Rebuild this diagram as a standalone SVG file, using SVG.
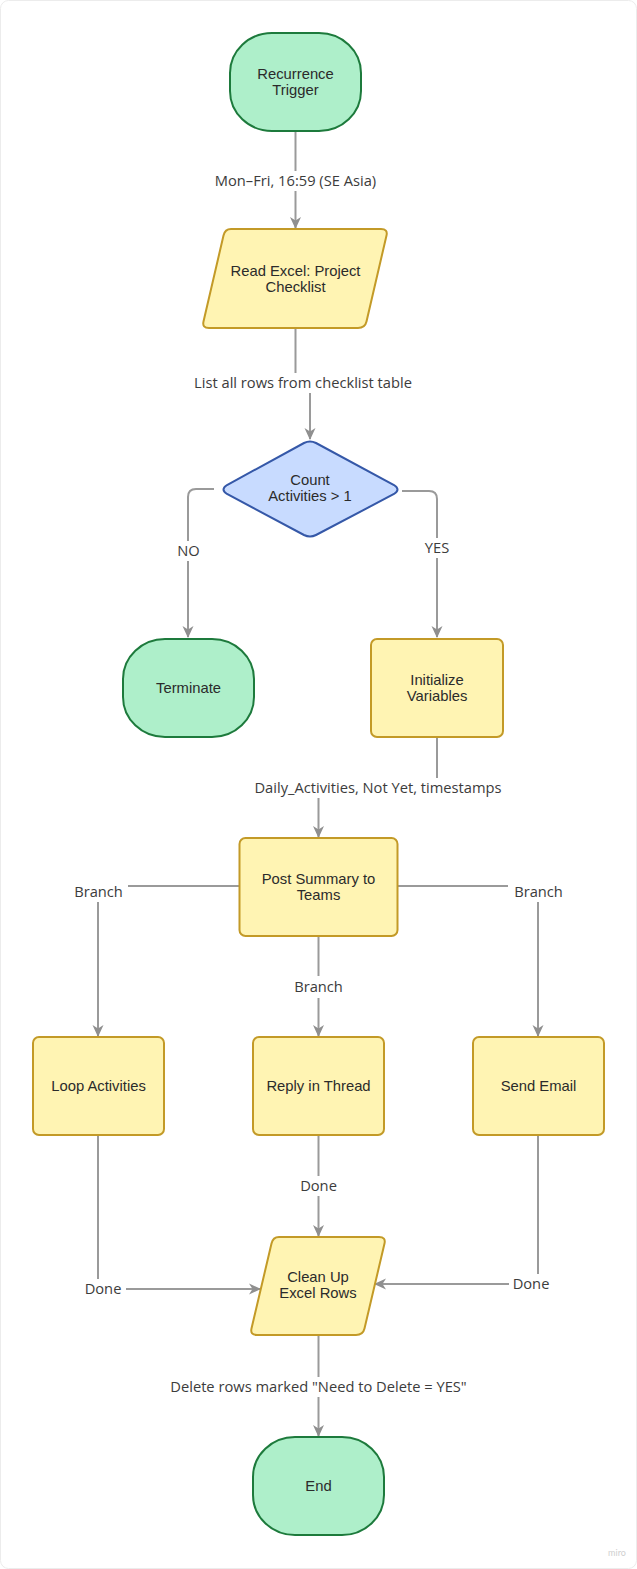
<svg xmlns="http://www.w3.org/2000/svg" width="637" height="1569" viewBox="0 0 637 1569">
<style>
.term{fill:#aeefca;stroke:#1d7a3c;stroke-width:2}
.proc{fill:#fff4b3;stroke:#c39a27;stroke-width:2}
.dec{fill:#c8dbff;stroke:#3558a8;stroke-width:2}
.nt{font-family:"Liberation Sans",Arial,sans-serif;font-size:14.8px;fill:#2b2b2b;text-anchor:middle}
.lt{font-family:"Open Sans","Noto Sans",sans-serif;font-size:14.7px;fill:#3c3c3c;text-anchor:middle}
.edge{fill:none;stroke:#9a9a9a;stroke-width:2}
.lb{fill:#ffffff}
</style>
<defs>
<marker id="arr" viewBox="0 0 12 12" refX="11" refY="6" markerWidth="12" markerHeight="12" markerUnits="userSpaceOnUse" orient="auto">
<path d="M0,0.5 L12,6 L0,11.5 L3.5,6 Z" fill="#8f8f8f"/>
</marker>
</defs>
<rect x="0.5" y="0.5" width="636" height="1568" rx="8" fill="#ffffff" stroke="#ececec"/>

<g id="connectors">
<path class="edge" d="M295.5 131 V228" marker-end="url(#arr)"/>
<path class="edge" d="M295.5 328 V383 H310 V439" marker-end="url(#arr)"/>
<path class="edge" d="M214 489 H196 Q188 489 188 497 V637" marker-end="url(#arr)"/>
<path class="edge" d="M402 491 H429 Q437 491 437 499 V637" marker-end="url(#arr)"/>
<path class="edge" d="M437 738 V788 H318.5 V837" marker-end="url(#arr)"/>
<path class="edge" d="M239 886 H106 Q98 886 98 894 V1036" marker-end="url(#arr)"/>
<path class="edge" d="M397 886 H530 Q538 886 538 894 V1036" marker-end="url(#arr)"/>
<path class="edge" d="M318.5 937 V1036" marker-end="url(#arr)"/>
<path class="edge" d="M98 1135 V1281 Q98 1289 106 1289 H260" marker-end="url(#arr)"/>
<path class="edge" d="M318.5 1135 V1236" marker-end="url(#arr)"/>
<path class="edge" d="M538 1135 V1276 Q538 1284 530 1284 H375" marker-end="url(#arr)"/>
<path class="edge" d="M318.5 1335 V1436" marker-end="url(#arr)"/>

<rect class="lb" x="210" y="171" width="172" height="20"/>
<text class="lt" x="295.5" y="186">Mon–Fri, 16:59 (SE Asia)</text>
<rect class="lb" x="189" y="373" width="228" height="20"/>
<text class="lt" x="303" y="388">List all rows from checklist table</text>
<rect class="lb" x="173" y="541" width="30" height="20"/>
<text class="lt" x="188.5" y="556">NO</text>
<rect class="lb" x="421" y="538" width="32" height="20"/>
<text class="lt" x="437" y="553">YES</text>
<rect class="lb" x="248" y="778" width="260" height="20"/>
<text class="lt" x="378" y="793">Daily_Activities, Not Yet, timestamps</text>
<rect class="lb" x="69" y="880" width="59" height="22"/>
<text class="lt" x="98.5" y="897">Branch</text>
<rect class="lb" x="508" y="880" width="60" height="22"/>
<text class="lt" x="538.5" y="897">Branch</text>
<rect class="lb" x="289" y="976" width="59" height="22"/>
<text class="lt" x="318.5" y="992">Branch</text>
<rect class="lb" x="297" y="1176" width="43" height="20"/>
<text class="lt" x="318.5" y="1191">Done</text>
<rect class="lb" x="81" y="1279" width="45" height="20"/>
<text class="lt" x="103" y="1294">Done</text>
<rect class="lb" x="509" y="1274" width="45" height="20"/>
<text class="lt" x="531" y="1289">Done</text>
<rect class="lb" x="163" y="1377" width="312" height="20"/>
<text class="lt" x="318.5" y="1392">Delete rows marked "Need to Delete = YES"</text>
</g>

<g id="recurrence-trigger">
<rect class="term" x="230" y="33" width="131" height="98" rx="42" ry="40"/>
<text class="nt" x="295.5" y="79">Recurrence</text>
<text class="nt" x="295.5" y="95">Trigger</text>
</g>

<g id="read-excel">
<path class="proc" d="M231 229 H381 Q388 229 386.5 235.5 L366.5 321.5 Q365 328 358 328 H209 Q202 328 203.5 321.5 L223.5 235.5 Q225 229 231 229 Z"/>
<text class="nt" x="295.5" y="276">Read Excel: Project</text>
<text class="nt" x="295.5" y="292">Checklist</text>
</g>

<g id="count-activities">
<path class="dec" d="M304 443 Q310 440 316 443 L394 485 Q401 489.5 394 494 L316 535 Q310 538 304 535 L227 494 Q220 489.5 227 485 Z"/>
<text class="nt" x="310" y="485">Count</text>
<text class="nt" x="310" y="501">Activities &gt; 1</text>
</g>

<g id="terminate">
<rect class="term" x="123" y="639" width="131" height="98" rx="42" ry="40"/>
<text class="nt" x="188.5" y="693">Terminate</text>
</g>

<g id="initialize-variables">
<rect class="proc" x="371" y="639" width="132" height="98" rx="6"/>
<text class="nt" x="437" y="685">Initialize</text>
<text class="nt" x="437" y="701">Variables</text>
</g>

<g id="post-summary">
<rect class="proc" x="239.5" y="838" width="158" height="98" rx="6"/>
<text class="nt" x="318.5" y="884">Post Summary to</text>
<text class="nt" x="318.5" y="900">Teams</text>
</g>

<g id="loop-activities">
<rect class="proc" x="33" y="1037" width="131" height="98" rx="6"/>
<text class="nt" x="98.5" y="1091">Loop Activities</text>
</g>

<g id="reply-in-thread">
<rect class="proc" x="253" y="1037" width="131" height="98" rx="6"/>
<text class="nt" x="318.5" y="1091">Reply in Thread</text>
</g>

<g id="send-email">
<rect class="proc" x="473" y="1037" width="131" height="98" rx="6"/>
<text class="nt" x="538.5" y="1091">Send Email</text>
</g>

<g id="clean-up">
<path class="proc" d="M279 1237 H379 Q386 1237 384.5 1243.5 L364.5 1328.5 Q363 1335 356 1335 H257 Q250 1335 251.5 1328.5 L271.5 1243.5 Q273 1237 279 1237 Z"/>
<text class="nt" x="318" y="1282">Clean Up</text>
<text class="nt" x="318" y="1298">Excel Rows</text>
</g>

<g id="end">
<rect class="term" x="253" y="1437" width="131" height="98" rx="42" ry="40"/>
<text class="nt" x="318.5" y="1491">End</text>
</g>

<text x="617" y="1556" font-family="Lato,'Open Sans',sans-serif" font-size="9px" fill="#cfcfcf" text-anchor="middle">miro</text>
</svg>
